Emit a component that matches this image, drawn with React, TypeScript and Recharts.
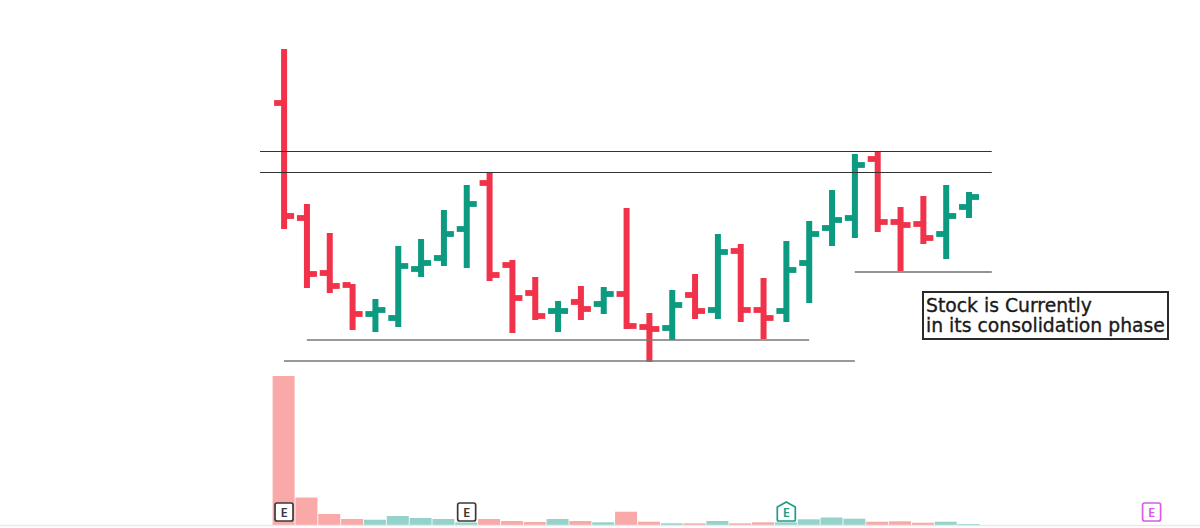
import {
  Bar,
  Cell,
  ComposedChart,
  ReferenceDot,
  ReferenceLine,
  XAxis,
  YAxis,
} from "recharts";

const WIDTH = 1200;
const HEIGHT = 528;

const RED = "#f0334a";
const GREEN = "#0c9a80";
const RED_VOL = "#f8a9a8";
const GREEN_VOL = "#95d2cb";

// Session by session
const opens = [425, 310, 255, 243, 214, 210, 259, 270, 299, 345, 263, 235, 217, 226, 224, 234, 201, 200, 233, 218, 277, 218, 217, 265, 300, 310, 369, 306, 304, 294, 321];
const highs = [479, 324, 295, 244, 229, 282, 289, 318, 343, 356, 268, 251, 227, 242, 241, 320, 215, 238, 254, 294, 284, 250, 287, 307, 338, 374, 376, 321, 332, 343, 336];
const lows = [299, 240, 235, 198, 196, 201, 251, 262, 260, 247, 195, 208, 196, 208, 214, 199, 166, 188, 209, 209, 206, 189, 206, 225, 282, 290, 296, 257, 284, 269, 310];
const closes = [312, 254, 242, 214, 218, 262, 265, 294, 324, 253, 230, 212, 217, 219, 234, 202, 199, 223, 217, 276, 218, 210, 258, 294, 308, 363, 306, 303, 290, 312, 331];
const volumes = [149.5, 28, 11.5, 6.5, 5.8, 9.5, 7.5, 6.5, 3, 6.5, 4.5, 3.5, 6.5, 4.5, 3.2, 13.8, 3.8, 2.2, 2.2, 4.5, 2.2, 3.2, 3.2, 6.2, 8, 6.8, 3.8, 4.2, 2.8, 3.8, 1.5];

const earnings = [
  { i: 0, kind: "past", color: "#3a3a3a" },
  { i: 8, kind: "past", color: "#3a3a3a" },
  { i: 22, kind: "house", color: "#1f9c86" },
  { i: 38, kind: "next", color: "#d65ce8" },
];

const levels = [
  { price: 376.5, from: -1.05, to: 31, stroke: "#333333", w: 1 },
  { price: 355.5, from: -1.05, to: 31, stroke: "#333333", w: 1 },
  { price: 256, from: 25, to: 31, stroke: "#6f6f6f", w: 1.3 },
  { price: 188, from: 1, to: 23, stroke: "#777777", w: 1.5 },
  { price: 167, from: 0, to: 25, stroke: "#777777", w: 1.5 },
];

const rows = opens.map((open, i) => ({
  i,
  open,
  high: highs[i],
  low: lows[i],
  close: closes[i],
  volume: volumes[i],
  range: [lows[i], highs[i]],
}));

function OhlcShape(props: any) {
  const { x, y, width, height, payload } = props;
  const top = Math.min(y, y + height);
  const h = Math.abs(height);
  const perUnit = h / (payload.high - payload.low);
  const color = payload.close >= payload.open ? GREEN : RED;
  const mid = x + width / 2 + 0.5;
  const openY = top + (payload.high - payload.open) * perUnit;
  const closeY = top + (payload.high - payload.close) * perUnit;
  return (
    <g fill={color}>
      <rect x={mid - 3} y={top} width={6} height={h} />
      <rect x={mid - 10} y={openY - 2.9} width={8} height={5.8} />
      <rect x={mid + 2} y={closeY - 2.9} width={8} height={5.8} />
    </g>
  );
}

function EarningsBadge({ cx, cy, color, kind }: any) {
  return (
    <g>
      {kind === "house" ? (
        <path
          d={`M${cx} ${cy - 10} L${cx + 9} ${cy - 5} V${cy + 8} Q${cx + 9} ${cy + 9} ${cx + 8} ${cy + 9} H${cx - 8} Q${cx - 9} ${cy + 9} ${cx - 9} ${cy + 8} V${cy - 5} Z`}
          fill="#ffffff"
          stroke={color}
          strokeWidth={1.7}
        />
      ) : (
        <rect x={cx - 9} y={cy - 9} width={18} height={18} rx={2} fill="#ffffff" stroke={color} strokeWidth={1.7} />
      )}
      <text
        x={cx}
        y={cy + 4.5}
        textAnchor="middle"
        fontSize={13}
        fontWeight={600}
        fontFamily="'Noto Sans', sans-serif"
        fill={color}
      >
        E
      </text>
    </g>
  );
}

export default function App() {
  return (
    <div style={{ position: "absolute", left: 0, top: 0, width: WIDTH, height: HEIGHT, background: "#ffffff" }}>
      <ComposedChart width={WIDTH} height={HEIGHT} data={rows} margin={{ top: 0, right: 0, bottom: 0, left: 0 }}>
        <XAxis xAxisId="px" dataKey="i" type="number" domain={[-12.44, 40.12]} allowDataOverflow hide />
        <XAxis xAxisId="vx" dataKey="i" type="number" domain={[-12.44, 40.12]} allowDataOverflow hide />
        <YAxis yAxisId="py" type="number" domain={[0, 528]} allowDataOverflow hide />
        <YAxis yAxisId="vy" type="number" domain={[-2.5, 525.5]} allowDataOverflow hide />

        <ReferenceLine
          xAxisId="vx"
          yAxisId="vy"
          y={0}
          stroke="#e9e9e9"
          strokeWidth={1.5}
          ifOverflow="visible"
        />
        <Bar xAxisId="vx" yAxisId="vy" dataKey="volume" barSize={22} isAnimationActive={false}>
          {rows.map((d) => (
            <Cell key={d.i} fill={d.close >= d.open ? GREEN_VOL : RED_VOL} />
          ))}
        </Bar>
        <Bar
          xAxisId="px"
          yAxisId="py"
          dataKey="range"
          barSize={6}
          shape={OhlcShape}
          isAnimationActive={false}
        />

        {levels.map((l) => (
          <ReferenceLine
            key={l.price}
            xAxisId="px"
            yAxisId="py"
            segment={[
              { x: l.from, y: l.price },
              { x: l.to, y: l.price },
            ]}
            stroke={l.stroke}
            strokeWidth={l.w}
            ifOverflow="visible"
          />
        ))}
        {earnings.map((e) => (
          <ReferenceDot
            key={e.i}
            xAxisId="vx"
            yAxisId="vy"
            x={e.i}
            y={13.5}
            ifOverflow="visible"
            shape={(p: any) => <EarningsBadge cx={p.cx} cy={p.cy} color={e.color} kind={e.kind} />}
          />
        ))}
      </ComposedChart>
      <div
        style={{
          position: "absolute",
          left: 922,
          top: 291,
          width: 247,
          height: 49,
          boxSizing: "border-box",
          border: "2px solid #2a2a2a",
          background: "#ffffff",
          padding: "3px 0 0 2px",
          fontFamily: "'DejaVu Sans', sans-serif",
          fontSize: 18.8,
          lineHeight: "20px",
          WebkitTextStroke: "0.35px #1a1a1a",
          color: "#1a1a1a",
          whiteSpace: "nowrap",
        }}
      >
        Stock is Currently
        <br />
        in its consolidation phase
      </div>
    </div>
  );
}
